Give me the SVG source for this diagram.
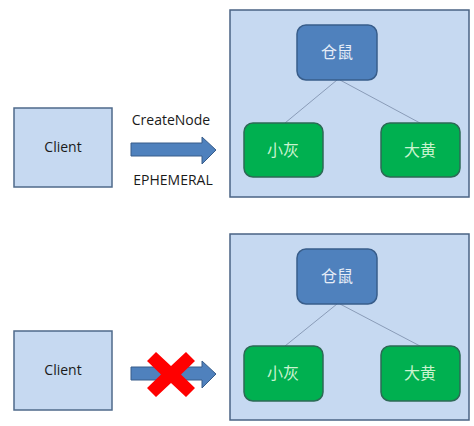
<svg xmlns="http://www.w3.org/2000/svg" width="474" height="426" viewBox="0 0 474 426">
<style>
.panel{fill:#c6d9f1;stroke:#4a6384;stroke-width:1.5}
.client{fill:#c6d9f1;stroke:#4f6a8a;stroke-width:1.5}
.blue{fill:#4f81bd;stroke:#385d8a;stroke-width:1.5}
.green{fill:#00b050;stroke:#2c6a55;stroke-width:1.5}
.arrow{fill:#4f81bd;stroke:#385d8a;stroke-width:1}
.edge{stroke:#8a9cb8;stroke-width:1;fill:none}
.lbl{font-family:"Open Sans","Liberation Sans",sans-serif;font-size:14px;fill:#1a1a1a;text-anchor:middle}
.cjk{font-family:"Noto Sans CJK SC",sans-serif;font-size:16px;text-anchor:middle}
.cb{fill:#e6edf7}
.cg{fill:#c9f3cf}
</style>
<rect width="474" height="426" fill="#ffffff"/>
<!-- top scenario -->
<g id="client1"><rect class="client" x="14" y="108" width="98" height="79"/><text class="lbl" x="63" y="152">Client</text></g>
<g id="panel1"><rect class="panel" x="230" y="10" width="239" height="187"/></g>
<g id="connectors1">
<line class="edge" x1="337" y1="80" x2="285" y2="123"/>
<line class="edge" x1="340" y1="80" x2="420" y2="123"/>
<polygon class="arrow" points="131,143 202,143 202,137 216,150 202,164 202,156 131,156"/>
</g>
<g id="label1"><text class="lbl" x="171" y="125">CreateNode</text><text class="lbl" x="173" y="185">EPHEMERAL</text></g>
<g id="hamster1"><rect class="blue" x="297" y="25" width="80" height="55" rx="9"/><text class="cjk cb" x="337" y="58">仓鼠</text></g>
<g id="xiaohui1"><rect class="green" x="244" y="123" width="79" height="54" rx="9"/><text class="cjk cg" x="283" y="156">小灰</text></g>
<g id="dahuang1"><rect class="green" x="381" y="123" width="79" height="54" rx="9"/><text class="cjk cg" x="420" y="156">大黄</text></g>
<!-- bottom scenario -->
<g id="client2"><rect class="client" x="14" y="331" width="98" height="79"/><text class="lbl" x="63" y="375">Client</text></g>
<g id="panel2"><rect class="panel" x="230" y="234" width="239" height="186"/></g>
<g id="connectors2">
<line class="edge" x1="337" y1="304" x2="285" y2="346"/>
<line class="edge" x1="340" y1="304" x2="420" y2="346"/>
<polygon class="arrow" points="131,367 202,367 202,361 216,374 202,388 202,380 131,380"/>
</g>
<g id="cross"><polygon fill="#ff0000" points="147,361 156,352 171,366 186,352 195,361 181,374.5 195,388 186,397 171,383 156,397 147,388 161,374.5"/></g>
<g id="hamster2"><rect class="blue" x="297" y="249" width="80" height="55" rx="9"/><text class="cjk cb" x="337" y="282">仓鼠</text></g>
<g id="xiaohui2"><rect class="green" x="244" y="346" width="79" height="55" rx="9"/><text class="cjk cg" x="283" y="379">小灰</text></g>
<g id="dahuang2"><rect class="green" x="381" y="346" width="79" height="55" rx="9"/><text class="cjk cg" x="420" y="379">大黄</text></g>
</svg>
